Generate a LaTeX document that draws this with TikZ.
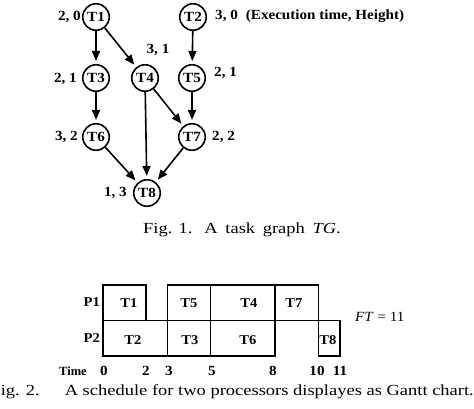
\documentclass[tikz,border=0pt]{standalone}
\usepackage{fontspec}
\setmainfont{Liberation Serif}
\newfontfamily\capfont[FakeStretch=1.2]{Liberation Serif}
\newfontfamily\labfont[FakeStretch=1.08]{Liberation Serif}
\usetikzlibrary{arrows.meta}
\begin{document}
\begin{tikzpicture}[x=1pt,y=-1pt,
  task/.style={circle,draw,line width=1.6pt,minimum size=26.5pt,inner sep=0pt,font=\labfont\fontsize{14}{14}\selectfont\bfseries},
  lab/.style={font=\labfont\fontsize{14}{14}\selectfont\bfseries,inner sep=0pt},
  edge/.style={-{Triangle[length=10pt,width=8pt]},line width=1.6pt,shorten >=3pt},
  gbox/.style={draw,line width=1.6pt,minimum height=35.5pt,inner sep=0pt},
  glab/.style={font=\labfont\fontsize{13.5}{13.5}\selectfont\bfseries,inner sep=0pt},
  numlab/.style={font=\labfont\fontsize{14}{14}\selectfont\bfseries,inner sep=0pt},
  captext/.style={font=\capfont\fontsize{15.4}{16}\selectfont,inner sep=0pt}
]
\useasboundingbox (0,0) rectangle (474,408);
% task graph
\node[task] (t1) at (96,17) {T1};
\node[task] (t2) at (193,17) {T2};
\node[task] (t3) at (96,78) {T3};
\node[task] (t4) at (145,78) {T4};
\node[task] (t5) at (192,78) {T5};
\node[task] (t6) at (96,137) {T6};
\node[task] (t7) at (192,137) {T7};
\node[task] (t8) at (147,193) {T8};
\draw[edge] (t1) -- (t3);
\draw[edge] (t1) -- (t4);
\draw[edge] (t2) -- (t5);
\draw[edge] (t3) -- (t6);
\draw[edge] (t4) -- (t7);
\draw[edge] (t5) -- (t7);
\draw[edge] (t6) -- (t8);
\draw[edge] (t4) -- (t8);
\draw[edge] (t7) -- (t8);
\node[lab,anchor=east] (l1) at (81,17) {2, 0};
\node[lab,anchor=west] (l2) at (215,16) {3, 0\hspace{8pt}(Execution time, Height)};
\node[lab,anchor=east] (l3) at (77,79) {2, 1};
\node[lab] (l4) at (158,50) {3, 1};
\node[lab,anchor=west] (l5) at (214,73) {2, 1};
\node[lab,anchor=east] (l6) at (78,137) {3, 2};
\node[lab,anchor=west] (l7) at (212,137) {2, 2};
\node[lab,anchor=east] (l8) at (127,193) {1, 3};
\node[captext,anchor=west] (c1) at (143,230) {Fig. 1.\hspace{12pt}A\hspace{3pt} task\hspace{3pt} graph\hspace{3pt} \textit{TG}.};
% Gantt chart
\def\ux{21.55}
\node[gbox,minimum width=2*\ux pt,anchor=north west] (g1) at (102,284) {};
\node[gbox,minimum width=2*\ux pt,anchor=north west] (g5) at ({102+3*\ux},284) {};
\node[gbox,minimum width=3*\ux pt,anchor=north west] (g4) at ({102+5*\ux},284) {};
\node[gbox,minimum width=2*\ux pt,anchor=north west] (g7) at ({102+8*\ux},284) {};
\node[gbox,minimum width=3*\ux pt,anchor=north west] (g2) at (102,319.5) {};
\node[gbox,minimum width=2*\ux pt,anchor=north west] (g3) at ({102+3*\ux},319.5) {};
\node[gbox,minimum width=3*\ux pt,anchor=north west] (g6) at ({102+5*\ux},319.5) {};
\node[gbox,minimum width=1*\ux pt,anchor=north west] (g8) at ({102+10*\ux},319.5) {};
\node[glab] (n1) at (129,303) {T1};
\node[glab] (n5) at (189,303) {T5};
\node[glab] (n4) at (249,303) {T4};
\node[glab] (n7) at (294,303) {T7};
\node[glab] (n2) at (133,340) {T2};
\node[glab] (n3) at (190,340) {T3};
\node[glab] (n6) at (248,340) {T6};
\node[glab] (n8) at (328,340) {T8};
\node[glab,anchor=east] (p1) at (100,302) {P1};
\node[glab,anchor=east] (p2) at (100,338) {P2};
\node[font=\fontsize{12.5}{12.5}\selectfont\bfseries,inner sep=0pt] (tm) at (73,371) {Time};
\node[numlab] (x0) at (104,371) {0};
\node[numlab] (x2) at (146,371) {2};
\node[numlab] (x3) at (169,371) {3};
\node[numlab] (x5) at (212,371) {5};
\node[numlab] (x8) at (273,371) {8};
\node[numlab] (x10) at (317,371) {10};
\node[numlab] (x11) at (340,371) {11};
\node[font=\labfont\fontsize{14}{14}\selectfont,inner sep=0pt,anchor=west] (ft) at (355,317) {\textit{FT} = 11};
\node[captext,anchor=east] (c2) at (474,392) {Fig. 2.\hspace{25pt}A schedule for two processors displayes as Gantt chart.};
\end{tikzpicture}
\end{document}
